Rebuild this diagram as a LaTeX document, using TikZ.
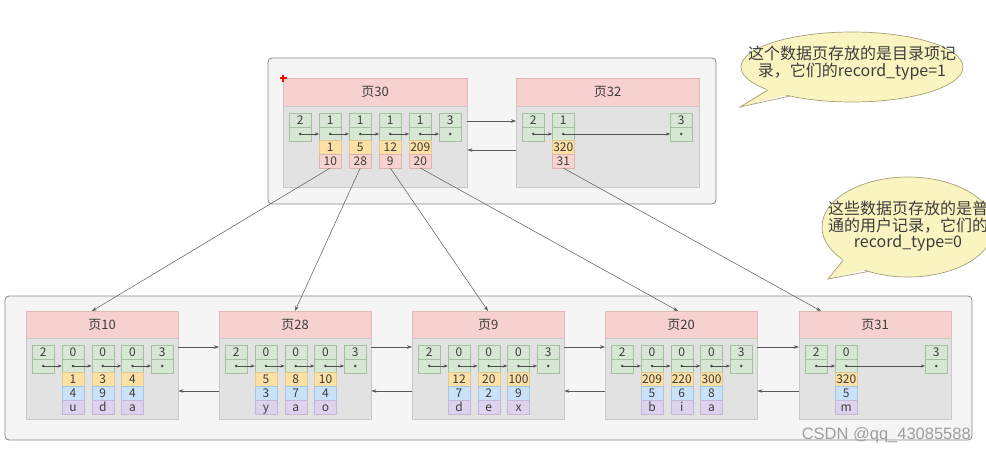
\documentclass[tikz,border=0pt]{standalone}
\usepackage{fontspec}
\setmainfont{Noto Sans CJK SC}
\newfontfamily\wmfont{Liberation Sans}
\usetikzlibrary{arrows.meta}
\definecolor{hdfill}{RGB}{247,209,207}
\definecolor{hdline}{RGB}{225,185,183}
\definecolor{bdfill}{RGB}{226,226,226}
\definecolor{bdline}{RGB}{200,200,200}
\definecolor{grfill}{RGB}{214,232,211}
\definecolor{grline}{RGB}{165,192,160}
\definecolor{yefill}{RGB}{253,224,163}
\definecolor{yeline}{RGB}{225,200,150}
\definecolor{pkfill}{RGB}{248,210,206}
\definecolor{pkline}{RGB}{220,180,176}
\definecolor{blfill}{RGB}{202,225,250}
\definecolor{blline}{RGB}{170,195,225}
\definecolor{pufill}{RGB}{222,211,238}
\definecolor{puline}{RGB}{195,185,215}
\definecolor{outfill}{RGB}{245,245,245}
\definecolor{outline}{RGB}{135,135,135}
\definecolor{txt}{RGB}{60,60,60}
\definecolor{calfill}{RGB}{250,244,192}
\definecolor{calline}{RGB}{165,160,120}
\tikzset{
  outerbox/.style={draw=outline, fill=outfill, rounded corners=4pt, line width=0.8pt},
  pghead/.style={draw=hdline, fill=hdfill, inner sep=0pt, text=txt, font=\fontsize{13}{13}\selectfont},
  pgbody/.style={draw=bdline, fill=bdfill, inner sep=0pt},
  cell/.style={inner sep=0pt, minimum height=13.5pt, minimum width=22pt, text height=10pt, text depth=1.5pt, text=txt, font=\fontsize{12}{12}\selectfont, anchor=north west, line width=0.5pt},
  gcell/.style={cell, draw=grline, fill=grfill},
  ycell/.style={cell, draw=yeline, fill=yefill},
  pcell/.style={cell, draw=pkline, fill=pkfill},
  bcell/.style={cell, draw=blline, fill=blfill},
  ucell/.style={cell, draw=puline, fill=pufill},
  dotc/.style={circle, fill=black!75, inner sep=0pt, minimum size=2.8pt},
  ptr/.style={-{Stealth[length=4pt,width=3pt]}, line width=0.5pt, draw=black!70},
  link/.style={-{Stealth[length=5pt,width=3.5pt]}, line width=0.5pt, draw=black!65},
  callout/.style={draw=calline, fill=calfill, line width=0.7pt},
  caltext/.style={align=center, text=txt, font=\fontsize{16}{17}\selectfont, inner sep=0pt}
}
\newcommand\rcd[5]{%
  \node[gcell, minimum width=#4pt] (#1t) at (#2,#3) {#5};
  \node[gcell, minimum width=#4pt] (#1b) at (#1t.south west) {};
  \node[dotc] (#1d) at (#1b.center) {};}
\newcommand\bpage[4]{%
  \node[pghead, minimum width=152pt, minimum height=27pt, anchor=north west] (#1h) at (#2,311) {#3};
  \node[pgbody, minimum width=152pt, minimum height=81pt, anchor=north west] (#1b) at (#2,338) {};
  \foreach \lab [count=\i from 0] in {2,0,0,0,3}{%
    \pgfmathsetmacro\xx{#2+6+29.75*\i}%
    \rcd{#1r\i}{\xx}{345}{22}{\lab}}%
  \foreach \k/\v/\c [count=\i] in {#4}{%
    \pgfmathsetmacro\xx{#2+6+29.75*\i}%
    \node[ycell] (#1k\i) at (\xx,372) {\k};
    \node[bcell] (#1v\i) at (#1k\i.south west) {\v};
    \node[ucell] (#1c\i) at (#1v\i.south west) {\c};}%
  \foreach \i in {0,...,3}{%
    \pgfmathtruncatemacro\j{\i+1}%
    \draw[ptr] (#1r\i d.center) -- (#1r\j b.west);}%
}
\begin{document}
\begin{tikzpicture}[x=1pt,y=-1pt]
\useasboundingbox (0,0) rectangle (986,453);
% outer boxes
\draw[outerbox] (268,58) rectangle (716,204);
\draw[outerbox] (5,296) rectangle (972,440);
% ---- page 30
\node[pghead, minimum width=184pt, minimum height=28pt, anchor=north west] (p30h) at (283,78) {页30};
\node[pgbody, minimum width=184pt, minimum height=81pt, anchor=north west] (p30b) at (283,106) {};
\foreach \lab [count=\i from 0] in {2,1,1,1,1,3}{%
  \pgfmathsetmacro\xx{289+30*\i}%
  \rcd{p30r\i}{\xx}{113}{22}{\lab}}
\foreach \k/\v [count=\i] in {1/10,5/28,12/9,209/20}{%
  \pgfmathsetmacro\xx{289+30*\i}%
  \node[ycell] (p30k\i) at (\xx,140) {\k};
  \node[pcell] (p30v\i) at (p30k\i.south west) {\v};}
\foreach \i in {0,...,4}{%
  \pgfmathtruncatemacro\j{\i+1}%
  \draw[ptr] (p30r\i d.center) -- (p30r\j b.west);}
% red plus
\draw[red, line width=1.1pt] (279.5,78) -- (286.5,78) (283,74.5) -- (283,81.5);
% ---- page 32
\node[pghead, minimum width=183pt, minimum height=28pt, anchor=north west] (p32h) at (516,78) {页32};
\node[pgbody, minimum width=183pt, minimum height=81pt, anchor=north west] (p32b) at (516,106) {};
\rcd{p32r0}{522}{113}{22}{2}
\rcd{p32r1}{552}{113}{22}{1}
\rcd{p32r2}{670}{113}{22}{3}
\node[ycell] (p32k1) at (552,140) {320};
\node[pcell] (p32v1) at (p32k1.south west) {31};
\draw[ptr] (p32r0d.center) -- (p32r1b.west);
\draw[ptr] (p32r1d.center) -- (p32r2b.west);
% links between top pages
\draw[link] ([yshift=-15pt]p30b.north east) -- ([yshift=-15pt]p32b.north west);
\draw[link] ([yshift=-44pt]p32b.north west) -- ([yshift=-44pt]p30b.north east);
% ---- bottom pages
\bpage{p10}{26}{页10}{1/4/u,3/9/d,4/4/a}
\bpage{p28}{219}{页28}{5/3/y,8/7/a,10/4/o}
\bpage{p9}{412}{页9}{12/7/d,20/2/e,100/9/x}
\bpage{p20}{605}{页20}{209/5/b,220/6/i,300/8/a}
% page 31
\node[pghead, minimum width=152pt, minimum height=27pt, anchor=north west] (p31h) at (799,311) {页31};
\node[pgbody, minimum width=152pt, minimum height=81pt, anchor=north west] (p31b) at (799,338) {};
\rcd{p31r0}{805}{345}{22}{2}
\rcd{p31r1}{835}{345}{22}{0}
\rcd{p31r2}{925}{345}{22}{3}
\node[ycell] (p31k1) at (835,372) {320};
\node[bcell] (p31v1) at (p31k1.south west) {5};
\node[ucell] (p31c1) at (p31v1.south west) {m};
\draw[ptr] (p31r0d.center) -- (p31r1b.west);
\draw[ptr] (p31r1d.center) -- (p31r2b.west);
% links between bottom pages
\foreach \a/\b in {p10/p28,p28/p9,p9/p20,p20/p31}{%
  \draw[link] ([yshift=-9pt]\a b.north east) -- ([yshift=-9pt]\b b.north west);
  \draw[link] ([yshift=-53pt]\b b.north west) -- ([yshift=-53pt]\a b.north east);}
% ---- connectors from directory records
\draw[link] (p30v1.south) -- ([xshift=66pt]p10h.north west);
\draw[link] (p30v2.south) -- ([xshift=76pt]p28h.north west);
\draw[link] (p30v3.south) -- ([xshift=76pt]p9h.north west);
\draw[link] (p30v4.south) -- ([xshift=73pt]p20h.north west);
\draw[link] (p32v1.south) -- ([xshift=22pt]p31h.north west);
% ---- callouts
\draw[callout] (852,67) ellipse [x radius=111pt, y radius=35pt];
\fill[calfill] (769,87.5) -- (740,107) -- (791,93.5) -- cycle;
\draw[calline, line width=0.7pt] (768,90) -- (740,107) -- (790,96);
\node[caltext] (c1) at (852,63.5) {这个数据页存放的是目录项记\\录，它们的record\_type=1};
\draw[callout] (908,227) ellipse [x radius=86pt, y radius=50pt];
\fill[calfill] (844,258) -- (828,279) -- (869,269) -- cycle;
\draw[calline, line width=0.7pt] (843,260.5) -- (828,279) -- (868,271.5);
\node[caltext, font=\fontsize{16}{16.5}\selectfont] (c2) at (908,226.5) {这些数据页存放的是普\\通的用户记录，它们的\\record\_type=0};
% watermark
\node[anchor=base east, inner sep=0pt, text=black!38, font=\wmfont\fontsize{16.5}{16.5}\selectfont] (wm) at (971,439) {CSDN @qq\_43085588};
\end{tikzpicture}
\end{document}
